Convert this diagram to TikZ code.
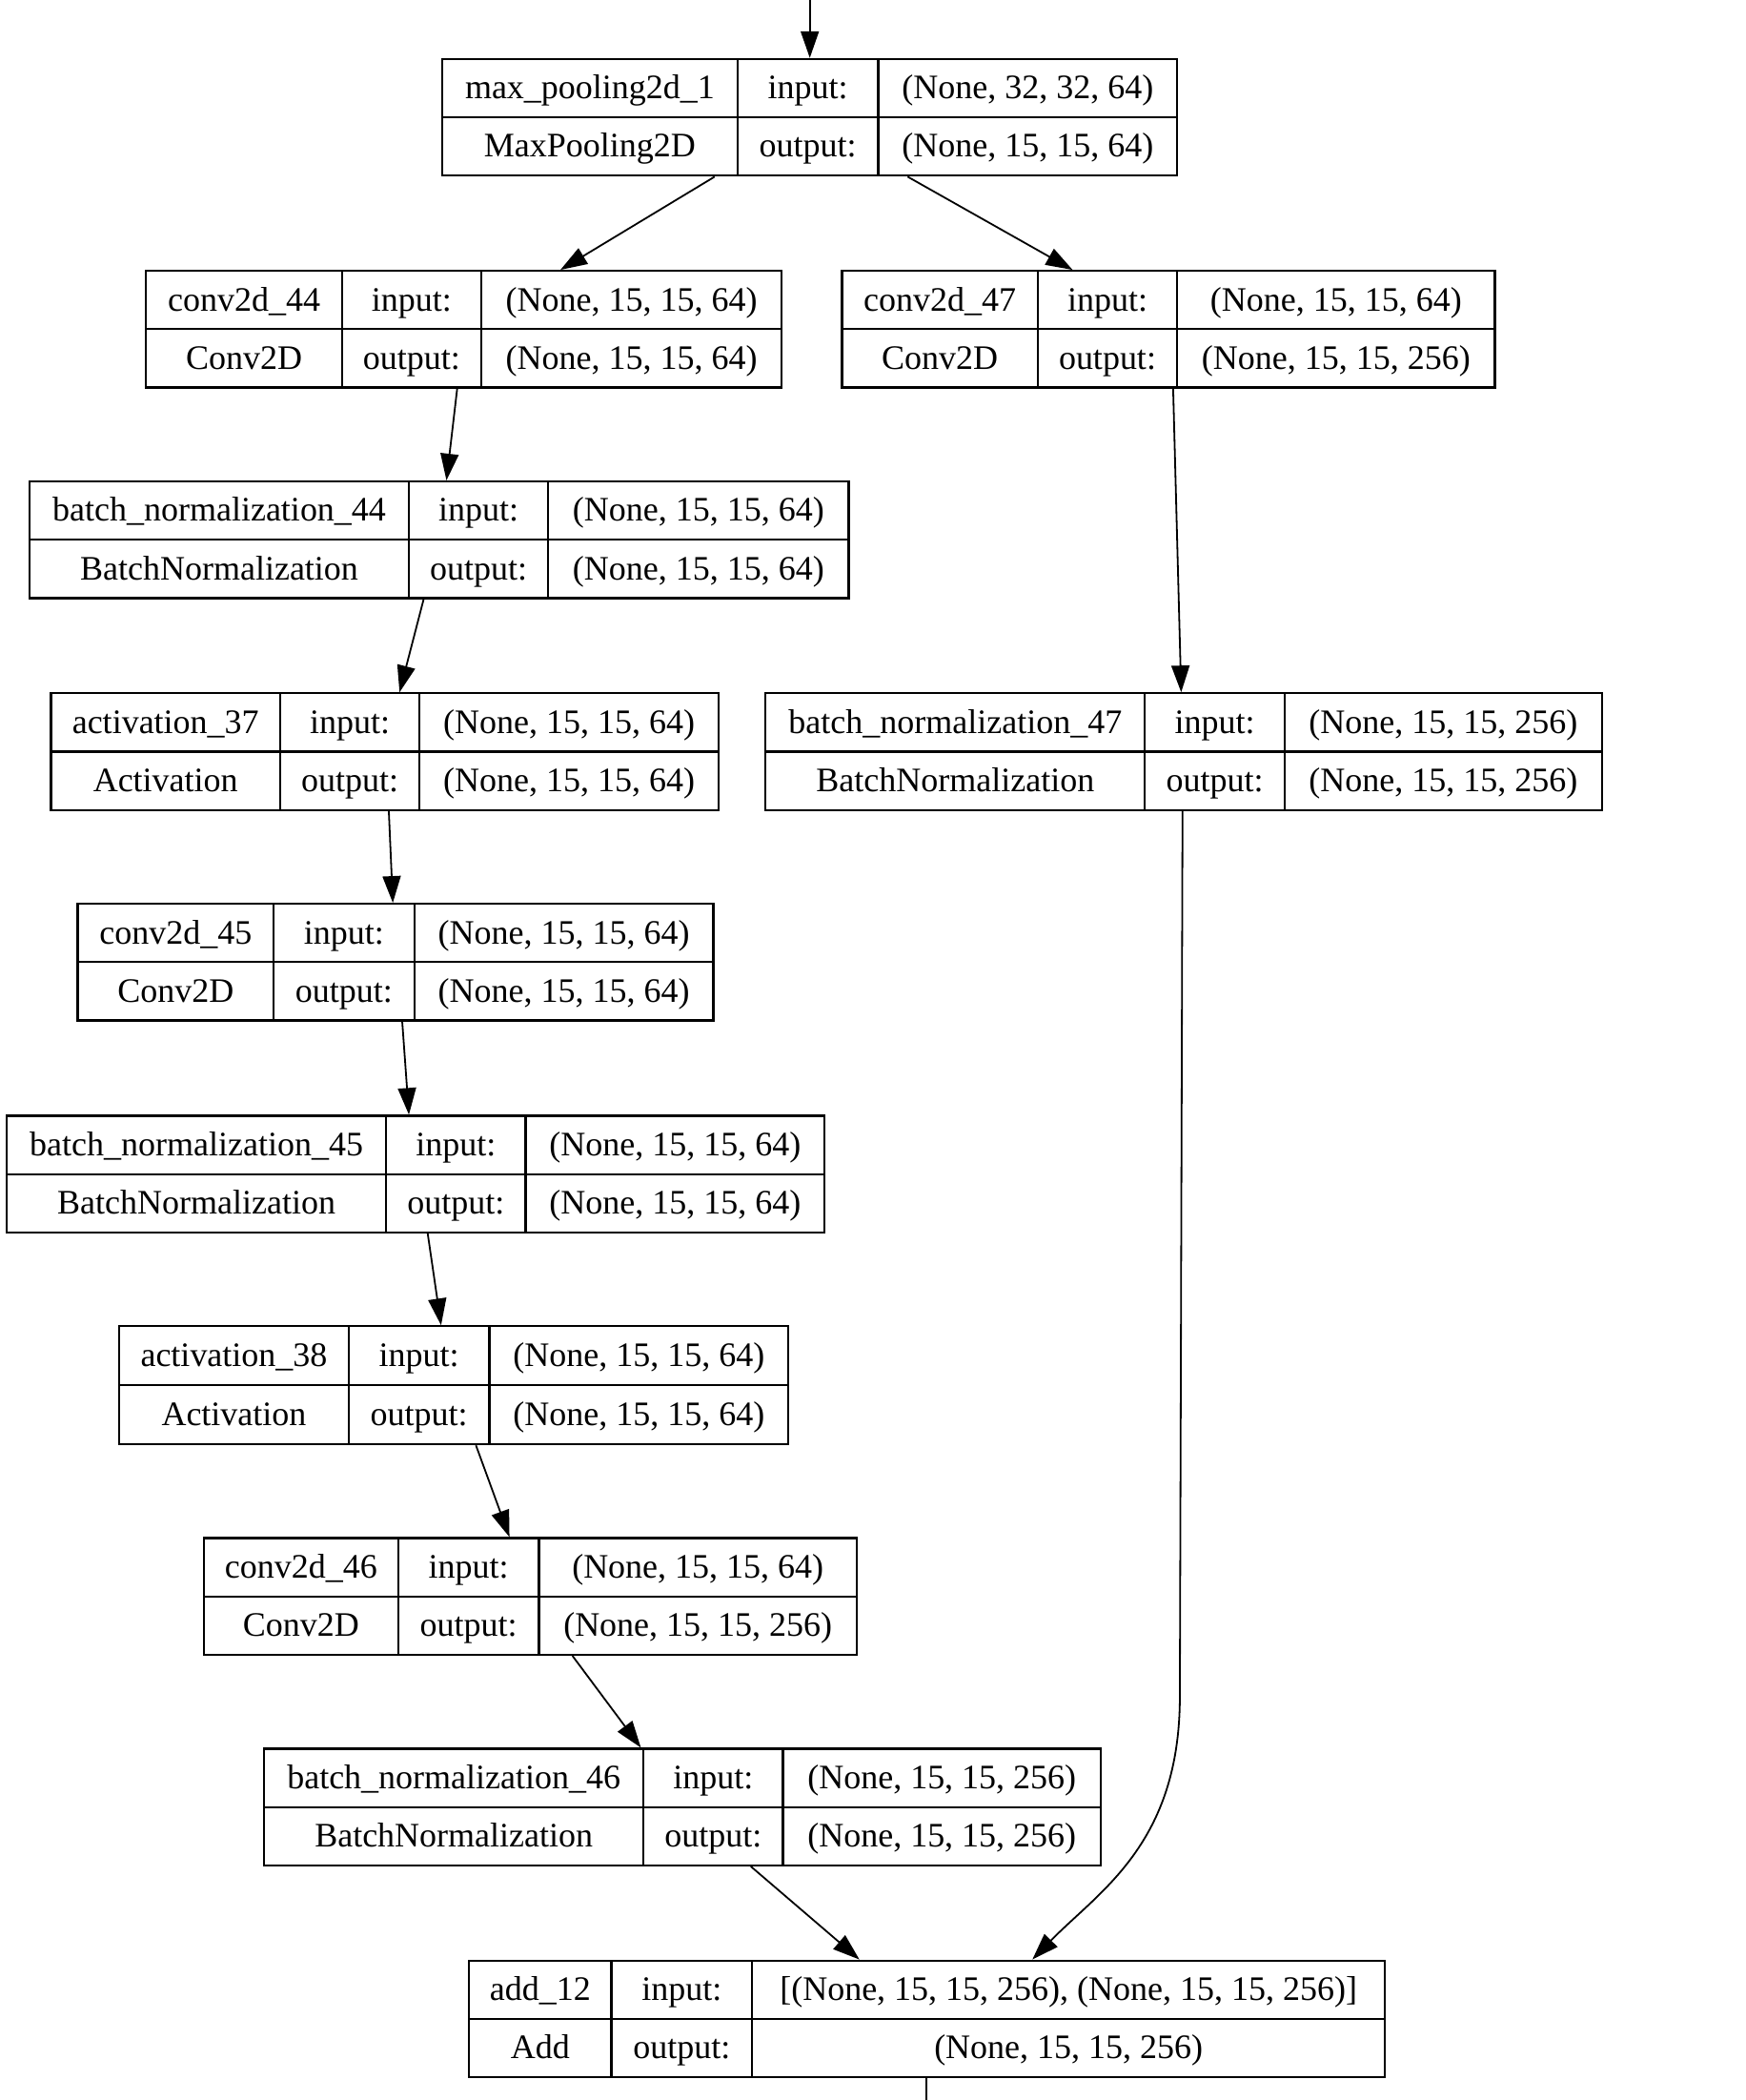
\documentclass[tikz,border=0pt]{standalone}
\usepackage{fontspec}
\setmainfont{Liberation Serif}
\usetikzlibrary{arrows.meta,fit}
\tikzset{
  boxst/.style={draw, line width=1.1pt, inner sep=0pt},
  cellline/.style={line width=1.1pt},
  lbl/.style={font=\fontsize{18}{20}\selectfont, inner sep=0pt, text height=14pt, text depth=2.7pt},
  arr/.style={line width=0.9pt, -{Triangle[length=14pt,width=9.5pt]}},
  plain/.style={line width=0.9pt}
}
\newcommand{\kbox}[7]{%
  \def\kL{#2}\def\kA{#3}\def\kB{#4}\def\kR{#5}\def\kT{#6}\def\kD{#7}%
  \node[boxst, fit={(#2,#6) (#5,#7)}] (#1) {};
  \draw[cellline] (#3,#6) -- (#3,#7) (#4,#6) -- (#4,#7) (#2,{(#6+#7)/2}) -- (#5,{(#6+#7)/2});
}
\newcommand{\ktext}[5]{%
  \node[lbl] (#1-name) at ({(\kL+\kA)/2},{(3*\kT+\kD)/4}) {#2};
  \node[lbl] (#1-type) at ({(\kL+\kA)/2},{(\kT+3*\kD)/4}) {#3};
  \node[lbl] (#1-inl) at ({(\kA+\kB)/2},{(3*\kT+\kD)/4}) {input:};
  \node[lbl] (#1-outl) at ({(\kA+\kB)/2},{(\kT+3*\kD)/4}) {output:};
  \node[lbl] (#1-in) at ({(\kB+\kR)/2},{(3*\kT+\kD)/4}) {#4};
  \node[lbl] (#1-out) at ({(\kB+\kR)/2},{(\kT+3*\kD)/4}) {#5};
}
\begin{document}
\begin{tikzpicture}[x=0.7035pt, y=-0.7035pt]
\useasboundingbox (0,0) rectangle (1302,1566);

\kbox{mp}{330}{550}{655}{878}{44}{131}
\ktext{mp}{max\_pooling2d\_1}{MaxPooling2D}{(None, 32, 32, 64)}{(None, 15, 15, 64)}

\kbox{c44}{109}{255}{359}{583}{202}{289}
\ktext{c44}{conv2d\_44}{Conv2D}{(None, 15, 15, 64)}{(None, 15, 15, 64)}

\kbox{c47}{628}{774}{878}{1115}{202}{289}
\ktext{c47}{conv2d\_47}{Conv2D}{(None, 15, 15, 64)}{(None, 15, 15, 256)}

\kbox{bn44}{22}{305}{409}{633}{359}{446}
\ktext{bn44}{batch\_normalization\_44}{BatchNormalization}{(None, 15, 15, 64)}{(None, 15, 15, 64)}

\kbox{a37}{38}{209}{313}{536}{517}{604}
\ktext{a37}{activation\_37}{Activation}{(None, 15, 15, 64)}{(None, 15, 15, 64)}

\kbox{bn47}{571}{854}{958}{1195}{517}{604}
\ktext{bn47}{batch\_normalization\_47}{BatchNormalization}{(None, 15, 15, 256)}{(None, 15, 15, 256)}

\kbox{c45}{58}{204}{309}{532}{674}{761}
\ktext{c45}{conv2d\_45}{Conv2D}{(None, 15, 15, 64)}{(None, 15, 15, 64)}

\kbox{bn45}{5}{288}{392}{615}{832}{919}
\ktext{bn45}{batch\_normalization\_45}{BatchNormalization}{(None, 15, 15, 64)}{(None, 15, 15, 64)}

\kbox{a38}{89}{260}{365}{588}{989}{1077}
\ktext{a38}{activation\_38}{Activation}{(None, 15, 15, 64)}{(None, 15, 15, 64)}

\kbox{c46}{152}{297}{402}{639}{1147}{1234}
\ktext{c46}{conv2d\_46}{Conv2D}{(None, 15, 15, 64)}{(None, 15, 15, 256)}

\kbox{bn46}{197}{480}{584}{821}{1304}{1391}
\ktext{bn46}{batch\_normalization\_46}{BatchNormalization}{(None, 15, 15, 256)}{(None, 15, 15, 256)}

\kbox{add}{350}{456}{561}{1033}{1462}{1549}
\ktext{add}{add\_12}{Add}{[(None, 15, 15, 256), (None, 15, 15, 256)]}{(None, 15, 15, 256)}

\coordinate (src) at (604,0);
\coordinate (sink) at (691,1566);

\draw[arr] (src) -- (604,0 |- mp.north);
\draw[arr] (533,0 |- mp.south) -- (418,0 |- c44.north);
\draw[arr] (677,0 |- mp.south) -- (800,0 |- c47.north);
\draw[arr] (341,0 |- c44.south) -- (333,0 |- bn44.north);
\draw[arr] (875,0 |- c47.south) -- (881,0 |- bn47.north);
\draw[arr] (316,0 |- bn44.south) -- (298,0 |- a37.north);
\draw[arr] (290,0 |- a37.south) -- (293,0 |- c45.north);
\draw[arr] (300,0 |- c45.south) -- (305,0 |- bn45.north);
\draw[arr] (319,0 |- bn45.south) -- (329,0 |- a38.north);
\draw[arr] (355,0 |- a38.south) -- (380,0 |- c46.north);
\draw[arr] (427,0 |- c46.south) -- (478,0 |- bn46.north);
\draw[arr] (560,0 |- bn46.south) -- (641,0 |- add.north);
\draw[arr] (882,0 |- bn47.south) -- (880,1265) .. controls (880,1375) and (820,1410) .. (770,0 |- add.north);
\draw[plain] (691,0 |- add.south) -- (sink);
\end{tikzpicture}
\end{document}
